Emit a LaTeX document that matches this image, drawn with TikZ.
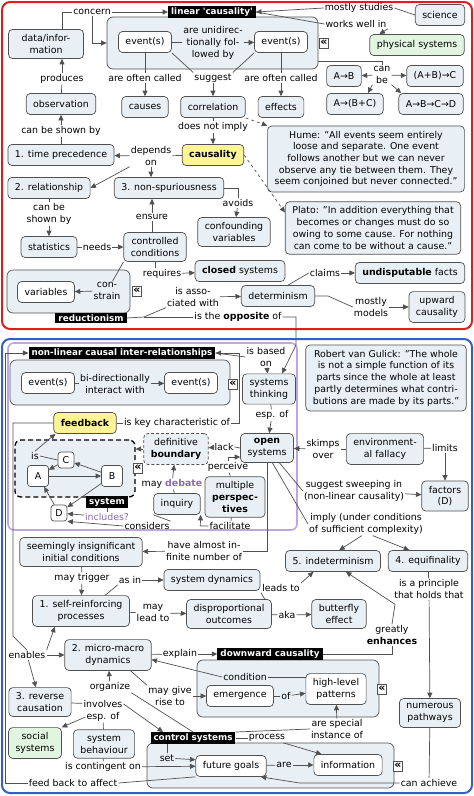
\documentclass[tikz,border=0pt]{standalone}
\usepackage{fontspec}
\setmainfont{DejaVu Sans}
\usetikzlibrary{arrows.meta}
\definecolor{cmfill}{RGB}{233,240,245}
\definecolor{cmline}{RGB}{80,80,80}
\definecolor{cmyellow}{RGB}{255,245,150}
\definecolor{cmgreen}{RGB}{226,245,224}
\definecolor{cmred}{RGB}{220,30,30}
\definecolor{cmblue}{RGB}{50,95,200}
\definecolor{cmpurple}{RGB}{190,165,230}
\definecolor{cmviolet}{RGB}{135,105,185}
\newcommand\cmfont{\fontsize{9.4}{11.7}\selectfont}
\newcommand\lblfont{\fontsize{8.8}{10}\selectfont\bfseries}
\tikzset{%
	cnode/.style={
		draw=cmline,
		fill=cmfill,
		rounded corners=4pt,
		line width=0.7pt,
		align=center,
		inner xsep=7pt,
		inner ysep=5pt,
		minimum height=21pt,
		font=\cmfont
	},
	cwhite/.style={cnode, fill=white},
	chot/.style={cnode, fill=cmyellow, font=\cmfont\bfseries},
	cliving/.style={cnode, fill=cmgreen},
	cletter/.style={cwhite, inner sep=1pt, rounded corners=3pt},
	cphrase/.style={align=center, inner sep=1pt, font=\cmfont},
	clabel/.style={fill=black, text=white, inner xsep=3pt, inner ysep=1.5pt, font=\lblfont},
	cgroup/.style={draw=cmline, fill=cmfill, rounded corners=6pt, line width=0.7pt},
	cfold/.style={draw=cmline, fill=white, line width=0.6pt, inner sep=0pt,
		minimum width=9pt, minimum height=10pt, font=\fontsize{11}{11}\selectfont\bfseries},
	cline/.style={draw=cmline, line width=0.7pt},
	carrow/.style={cline, -{Triangle[length=5.5pt,width=5pt]}},
}
\begin{document}
\begin{tikzpicture}[x=1pt, y=-1pt]
	\useasboundingbox (0,0) rectangle (474,796);
	
	% section frames
	\draw[cmred, line width=2pt, rounded corners=8pt] (2,2) rectangle (472,329);
	\draw[cmblue, line width=2pt, rounded corners=8pt] (2,339) rectangle (472,793);
	\draw[cmpurple, line width=1.6pt, rounded corners=6pt] (8,343) rectangle (297,530);
	
	% nested groups
	\node[cgroup, minimum width=211pt, minimum height=52pt] (lingroup) at (212.5,43) {};
	\node[cgroup, minimum width=123pt, minimum height=43pt] (redgroup) at (68.5,291.5) {};
	\node[cgroup, minimum width=220pt, minimum height=45pt] (evgroup) at (120,382.5) {};
	\node[cgroup, draw=black, line width=1.3pt, dash pattern=on 5pt off 3pt,
		minimum width=120pt, minimum height=57pt] (sysgroup) at (75,468.5) {};
	\node[cgroup, minimum width=182pt, minimum height=57pt] (downgroup) at (288,688.5) {};
	\node[cgroup, minimum width=247pt, minimum height=45pt] (ctrlgroup) at (270.5,765.5) {};
	\foreach \x/\y [count=\i] in {324/43, 137/291, 233/384, 138/468, 382/689, 398/766}
		\node[cfold] (fold\i) at (\x,\y) {«};
	
	\node[clabel] (lincaus) at (212,12) {linear \textquotesingle causality\textquotesingle};
	\node[clabel] (reduc) at (91,318) {reductionism};
	\node[clabel] (nonlin) at (122,353) {non-linear causal inter-relationships};
	\node[clabel] (syslabel) at (107,502) {system};
	\node[clabel] (downlabel) at (270,654) {downward causality};
	\node[clabel] (ctrllabel) at (193,738) {control systems};
	
	% linear causality
	\node[cnode, minimum width=75pt] (datainfo) at (46,44) {data/infor-\\mation};
	\node[cphrase] (concern) at (92,12) {concern};
	\node[cwhite] (evA) at (145,42) {event(s)};
	\node[cphrase] (unidir) at (213,43) {are unidirec-\\tionally fol-\\lowed by};
	\node[cwhite] (evB) at (281,42) {event(s)};
	\node[cphrase] (oftenA) at (145,78) {are often called};
	\node[cphrase] (suggest) at (213,78) {suggest};
	\node[cphrase] (oftenB) at (281,78) {are often called};
	\node[cnode] (causes) at (145,107) {causes};
	\node[cnode] (correlation) at (213,107) {correlation};
	\node[cnode] (effects) at (281,107) {effects};
	\node[cphrase] (notimply) at (213,127) {does not imply};
	\node[chot] (causality) at (213,155) {causality};
	\node[cphrase] (produces) at (62,79) {produces};
	\node[cnode] (observation) at (61,104) {observation};
	\node[cphrase] (shownA) at (61,131) {can be shown by};
	\node[cnode] (timeprec) at (61,155) {1. time precedence};
	\node[cphrase] (depends) at (151,156) {depends\\on};
	\node[cnode] (relation) at (49,188) {2. relationship};
	\node[cnode] (nonspur) at (169,188) {3. non-spuriousness};
	\node[cphrase] (shownB) at (49,214) {can be\\shown by};
	\node[cnode] (statistics) at (49,247) {statistics};
	\node[cphrase] (needs) at (97,247) {needs};
	\node[cnode] (controlled) at (155,247) {controlled\\conditions};
	\node[cphrase] (ensure) at (152,217) {ensure};
	\node[cphrase] (avoids) at (238,203) {avoids};
	\node[cnode] (confound) at (234,232) {confounding\\variables};
	\node[cnode] (hume) at (366,159) {Hume: "All events seem entirely\\loose and separate. One event\\follows another but we can never\\observe any tie between them. They\\seem conjoined but never connected."};
	\node[cnode] (plato) at (373,228) {Plato: "In addition everything that\\becomes or changes must do so\\owing to some cause. For nothing\\can come to be without a cause."};
	\node[cphrase] (canbe) at (382,75) {can\\be};
	\node[cnode] (ab) at (344,76) {A→B};
	\node[cnode] (abc) at (435,76) {(A+B)→C};
	\node[cnode] (abpc) at (355,104) {A→(B+C)};
	\node[cnode] (abcd) at (431,104) {A→B→C→D};
	\node[cnode] (science) at (440,15) {science};
	\node[cphrase] (studies) at (359,8) {mostly studies};
	\node[cphrase] (workswell) at (356,24) {works well in};
	\node[cliving] (physical) at (417,45) {physical systems};
	\node[cphrase] (requires) at (162,274) {requires};
	\node[cnode] (closed) at (240,271) {\textbf{closed} systems};
	\node[cwhite] (variables) at (46,292) {variables};
	\node[cphrase] (constrain) at (107,291) {con-\\strain};
	\node[cphrase] (assoc) at (193,297) {is asso-\\ciated with};
	\node[cphrase] (opposite) at (238,317) {is the \textbf{opposite} of};
	\node[cnode] (determinism) at (278,296) {determinism};
	\node[cphrase] (claims) at (325,273) {claims};
	\node[cnode] (undisput) at (410,273) {\textbf{undisputable} facts};
	\node[cphrase] (models) at (371,307) {mostly\\models};
	\node[cnode] (upward) at (437,307) {upward\\causality};
	
	% non-linear causal inter-relationships
	\node[cwhite] (evC) at (48,383) {event(s)};
	\node[cphrase] (bidir) at (115,384) {bi-directionally\\interact with};
	\node[cwhite] (evD) at (191,383) {event(s)};
	\node[chot] (feedback) at (85,423) {feedback};
	\node[cphrase] (keychar) at (177,423) {is key characteristic of};
	\node[cletter, minimum size=21pt] (nA) at (38,476) {A};
	\node[cletter, minimum size=16pt] (nC) at (66,460) {C};
	\node[cletter, minimum size=21pt] (nB) at (112,476) {B};
	\node[cletter, minimum size=16pt] (nD) at (59,513) {D};
	\node[cphrase] (isfb) at (35,456) {is};
	\node[cphrase, text=cmviolet] (includes) at (107,517) {includes?};
	\node[cphrase] (considers) at (147,526) {considers};
	\node[cnode] (inquiry) at (177,504) {inquiry};
	\node[cphrase] (debate) at (172,484) {may \textcolor{cmviolet}{\textbf{debate}}};
	\node[cnode, dashed, dash pattern=on 3pt off 2pt] (boundary) at (176,449) {definitive\\\textbf{boundary}};
	\node[cphrase] (lack) at (224,447) {lack};
	\node[cphrase] (perceive) at (228,467) {perceive};
	\node[cnode] (multiple) at (235,497) {multiple\\\textbf{perspec-}\\\textbf{tives}};
	\node[cphrase] (facilitate) at (230,526) {facilitate};
	\node[cphrase] (basedon) at (266,357) {is based\\on};
	\node[cnode] (systhink) at (269,389) {systems\\thinking};
	\node[cphrase] (espofA) at (272,415) {esp. of};
	\node[cnode] (opensys) at (267,448) {\textbf{open}\\systems};
	\node[cnode] (vangulick) at (386,378) {Robert van Gulick: "The whole\\is not a simple function of its\\parts since the whole at least\\partly determines what contri-\\butions are made by its parts."};
	\node[cphrase] (skimps) at (323,449) {skimps\\over};
	\node[cnode] (envfallacy) at (385,449) {environment-\\al fallacy};
	\node[cphrase] (limits) at (445,448) {limits};
	\node[cnode] (factors) at (445,496) {factors\\(D)};
	\node[cphrase] (sweeping) at (354,491) {suggest sweeping in\\(non-linear causality)};
	\node[cphrase] (imply) at (366,524) {imply (under conditions\\of sufficient complexity)};
	
	% consequences
	\node[cnode] (indet) at (333,561) {5. indeterminism};
	\node[cnode] (equif) at (428,561) {4. equifinality};
	\node[cphrase] (principle) at (429,589) {is a principle\\that holds that};
	\node[cnode] (pathways) at (430,713) {numerous\\pathways};
	\node[cphrase] (achieve) at (429,783) {can achieve};
	\node[cphrase] (almost) at (204,551) {have almost in-\\finite number of};
	\node[cnode] (seemingly) at (81,552) {seemingly insignificant\\initial conditions};
	\node[cphrase] (trigger) at (82,578) {may trigger};
	\node[cnode] (selfreinf) at (81,611) {1. self-reinforcing\\processes};
	\node[cphrase] (asin) at (130,580) {as in};
	\node[cnode] (sysdyn) at (212,580) {system dynamics};
	\node[cphrase] (maylead) at (153,613) {may\\lead to};
	\node[cnode] (disprop) at (229,614) {disproportional\\outcomes};
	\node[cphrase] (leadsto) at (281,588) {leads to};
	\node[cphrase] (aka) at (287,615) {aka};
	\node[cnode] (butterfly) at (339,614) {butterfly\\effect};
	\node[cphrase] (enhances) at (392,635) {greatly\\\textbf{enhances}};
	\node[cphrase] (enables) at (27,655) {enables};
	\node[cnode] (micromacro) at (108,655) {2. micro-macro\\dynamics};
	\node[cphrase] (explain) at (180,654) {explain};
	\node[cphrase] (condition) at (245,677) {condition};
	\node[cwhite] (emergence) at (240,696) {emergence};
	\node[cphrase] (of) at (286,696) {of};
	\node[cwhite] (highlevel) at (336,689) {high-level\\patterns};
	\node[cphrase] (special) at (337,729) {are special\\instance of};
	\node[cnode] (reverse) at (40,702) {3. reverse\\causation};
	\node[cphrase] (organize) at (110,687) {organize};
	\node[cphrase] (giverise) at (170,696) {may give\\rise to};
	\node[cphrase] (involves) at (103,704) {involves};
	\node[cphrase] (espofB) at (103,717) {esp. of};
	\node[cliving] (social) at (35,743) {social\\systems};
	\node[cnode] (sysbehav) at (104,744) {system\\behaviour};
	\node[cphrase] (contingent) at (103,767) {is contingent on};
	\node[cphrase] (set) at (167,758) {set};
	\node[cwhite] (futuregoals) at (231,766) {future goals};
	\node[cphrase] (are) at (284,765) {are};
	\node[cwhite] (information) at (348,765) {information};
	\node[cphrase] (process) at (267,738) {process};
	\node[cphrase] (feedaffect) at (73,783) {feed back to affect};
	
	% links, upper part
	\draw[cline] (datainfo.north -| produces) |- (concern.west);
	\draw[carrow] (concern.east) -- (lincaus.west);
	\draw[carrow] (concern.south) |- (lingroup.west);
	\draw[cline] (evA) -- (unidir);
	\draw[carrow] (unidir) -- (evB);
	\draw[cline] (evA.south east) -- (suggest.north west);
	\draw[cline] (evB.south west) -- (suggest.north east);
	\draw[carrow] (suggest) -- (correlation);
	\draw[cline] (evA) -- (oftenA);
	\draw[carrow] (oftenA) -- (causes);
	\draw[cline] (evB) -- (oftenB);
	\draw[carrow] (oftenB) -- (effects);
	\draw[cline] (correlation) -- (notimply);
	\draw[carrow] (notimply) -- (causality);
	\draw[carrow, dashed] (correlation.south east) -- (hume.north west);
	\draw[carrow, dashed] (causality.east) -- (plato.170);
	\draw[cline] (causality) -- (depends);
	\draw[carrow] (depends) -- (timeprec);
	\draw[carrow] (depends.south west) -- (relation.east);
	\draw[carrow] (depends.south) -- (depends.south |- nonspur.north);
	\draw[cline] (timeprec) -- (shownA);
	\draw[carrow] (shownA) -- (observation);
	\draw[cline] (observation) -- (produces);
	\draw[carrow] (produces) -- (produces |- datainfo.south);
	\draw[cline] (relation) -- (shownB);
	\draw[carrow] (shownB) -- (statistics);
	\draw[cline] (statistics) -- (needs);
	\draw[carrow] (needs) -- (controlled);
	\draw[cline] (ensure.south |- controlled.north) -- (ensure);
	\draw[carrow] (ensure) -- (ensure |- nonspur.south);
	\draw[cline] (nonspur.east) -| (avoids);
	\draw[carrow] (avoids) -- (confound);
	\draw[cline] ([yshift=-18pt]lingroup.east) -| (canbe);
	\draw[carrow] (canbe) -- (ab);
	\draw[carrow] (canbe) -- (abc);
	\draw[carrow] (canbe.south west) -- (abpc.40);
	\draw[carrow] (canbe.south east) -- (abcd.160);
	\draw[cline] (science.west) -- (studies.east);
	\draw[carrow] (studies.west) -- (lincaus.east);
	\draw[cline] (lincaus.east) -- (workswell.west);
	\draw[carrow] (workswell.south east) -- ([xshift=10pt]physical.north west);
	\draw[cline] (controlled.south) -- (controlled.south |- requires.north);
	\draw[carrow] (requires) -- (closed);
	\draw[cline] (controlled.south west) -- (constrain);
	\draw[carrow] (constrain) -- (variables);
	\coordinate (redfork) at (144,317);
	\draw[cline] (reduc.east) -- (redfork) -- (assoc.south west);
	\draw[carrow] (assoc) -- (determinism);
	\draw[cline] (redfork) -- (opposite.west);
	\coordinate (oppbend) at (296,345);
	\draw[carrow] (opposite.east) -| (oppbend) -- (systhink.50);
	\draw[cline] ([xshift=10pt]determinism.north) -- (claims.west);
	\draw[carrow] (claims) -- (undisput);
	\draw[cline] (determinism.east) -- ++(13,0) -- (models.west);
	\draw[carrow] (models) -- (upward);
	
	% links, lower part
	\draw[cline] (evC) -- (bidir);
	\draw[carrow] (bidir) -- (evD);
	\draw[cline] (feedback) -- (keychar);
	\coordinate (railB) at (239,423);
	\draw[carrow] (keychar.east) -- (railB) |- (nonlin.east);
	\draw[cline] (nonlin.east) -- (basedon.west);
	\draw[carrow] (basedon) -- (systhink);
	\draw[cline] (feedback.west) -- (13,423) -- (13,636) -- (enables.north);
	\draw[cline] (nC.west) -- (isfb.east);
	\draw[carrow] (isfb.north) -- ([xshift=2pt]feedback.south west);
	\draw[carrow] (nC) -- (nA);
	\draw[carrow] (nA) -- (nB);
	\draw[carrow] (nB) -- (nC);
	\draw[carrow] (nB) -- (nD);
	\draw[carrow] (nD) -- (nA);
	\draw[cline] (syslabel) -- (includes);
	\draw[carrow] (includes) -- (nD);
	\draw[cline] (inquiry.south west) -- (considers.north east);
	\draw[carrow] (considers.west) -- (nD.south east);
	\draw[cline] (inquiry) -- (debate);
	\draw[carrow] (debate) -- (boundary);
	\draw[carrow] (boundary.west) -- (boundary.west -| sysgroup.east);
	\draw[cline] (opensys.west) -- (lack.east);
	\draw[carrow] (lack) -- (boundary);
	\draw[cline] (multiple) -- (perceive);
	\draw[carrow] (perceive.north) |- ([yshift=-9pt]opensys.west);
	\draw[cline] (multiple) -- (facilitate);
	\draw[carrow] (facilitate.west) -- ++(-8,0) -- (inquiry.south east);
	\draw[cline] (systhink) -- (espofA);
	\draw[carrow] (espofA) -- (opensys);
	\draw[cline] (envfallacy) -- (skimps);
	\draw[carrow] (skimps) -- (opensys);
	\draw[cline] (envfallacy) -- (limits);
	\draw[carrow] (limits) -- (factors);
	\draw[cline] (opensys.-50) -- (sweeping.west);
	\draw[carrow] (sweeping) -- (factors);
	\draw[cline] (opensys.-70) -- (imply.west);
	\draw[carrow] (imply.250) -- (indet.60);
	\draw[carrow] (imply.300) -- (equif.150);
	\draw[cline] (opensys.south) |- (almost.east);
	\draw[carrow] (almost) -- (seemingly);
	\draw[cline] (equif) -- (principle);
	\draw[carrow] (principle) -- (pathways);
	\draw[cline] (pathways) -- (achieve);
	\draw[carrow] (achieve.west) -- ++(-100,0) -- (futuregoals.-20);
	\draw[cline] (seemingly) -- (trigger);
	\draw[carrow] (trigger) -- (selfreinf);
	\draw[cline] (selfreinf.33) -- (asin.south west);
	\draw[carrow] (asin) -- (sysdyn);
	\draw[cline] (selfreinf) -- (maylead);
	\draw[carrow] (maylead) -- (disprop);
	\draw[cline] ([xshift=-7pt]disprop.north east) -- (leadsto.south west);
	\draw[carrow] (leadsto.north east) -- (indet.209);
	\draw[cline] (disprop) -- (aka);
	\draw[carrow] (aka) -- (butterfly);
	\draw[cline] (downlabel.east) -| (enhances.south);
	\draw[carrow] (enhances.north) -- ++(3,-20) -- (indet.-40);
	\draw[carrow] (enables.north east) -- (selfreinf.211);
	\draw[carrow] (enables) -- (micromacro);
	\draw[carrow] (enables) -- (reverse);
	\draw[cline] (micromacro) -- (explain);
	\draw[carrow] (explain) -- (downlabel);
	\draw[cline] (condition.east) -- (condition.east -| highlevel.west);
	\draw[carrow] (condition.west) -- (micromacro.-6);
	\draw[cline] (emergence) -- (of);
	\draw[carrow] (of) -- (highlevel);
	\draw[cline] (micromacro.-35) -- (giverise.north west);
	\draw[carrow] (giverise) -- (emergence);
	\draw[cline] (ctrllabel.north) -- (organize.south east);
	\draw[carrow] (organize) -- (micromacro);
	\draw[cline] (reverse) -- (involves);
	\draw[carrow] (involves.east) -- ([xshift=-30pt]ctrllabel.north);
	\draw[cline] (sysbehav) -- (espofB);
	\draw[carrow] (espofB.west) -- (social.north east);
	\draw[cline] (sysbehav) -- (contingent);
	\draw[carrow] (contingent) -- (futuregoals);
	\draw[cline] (ctrllabel.south -| set) -- (set);
	\draw[carrow] (set) -- (futuregoals.170);
	\draw[cline] (futuregoals) -- (are);
	\draw[carrow] (are) -- (information);
	\draw[cline] (ctrllabel.east) -- (process);
	\draw[carrow] (process) -- ([xshift=8pt]information.north west);
	\draw[cline] (ctrllabel.north east) -- (special.west);
	\draw[carrow] (special) -- (highlevel);
	\draw[cline] (futuregoals.south west) -- (feedaffect.east);
	\draw[carrow] (feedaffect.west) -| (5.5,353) -- (nonlin.west);
	
\end{tikzpicture}
\end{document}
